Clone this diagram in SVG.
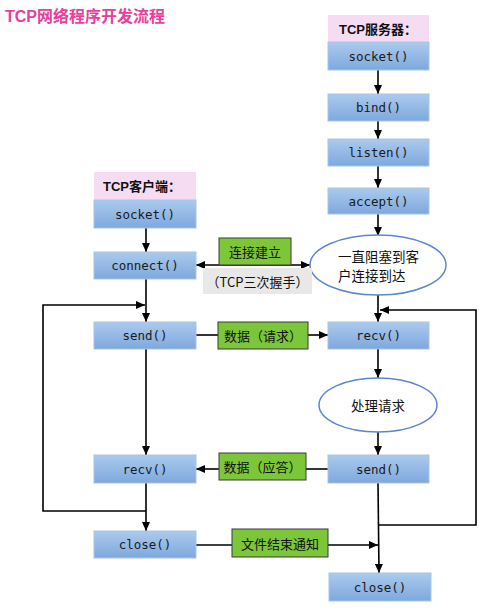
<svg xmlns="http://www.w3.org/2000/svg" width="500" height="611" viewBox="0 0 500 611">
<style>
.box{fill:url(#blue);stroke:#a9c4e6;stroke-width:1}
.bt{font-family:"DejaVu Sans Mono","Liberation Mono",monospace;font-size:12.5px;fill:#1a1a1a;text-anchor:middle;dominant-baseline:central}
.hdr{fill:#f5dcf2}
.ht{font-family:"Liberation Sans","Noto Sans CJK SC",sans-serif;font-weight:bold;font-size:13px;fill:#111;dominant-baseline:central}
.g{fill:#7cc63a;stroke:#3a3a3a;stroke-width:1}
.gt{font-family:"Noto Sans CJK SC",sans-serif;font-size:13px;fill:#111;text-anchor:middle;dominant-baseline:central}
.el{fill:#fff;stroke:#5b87d0;stroke-width:1.5}
.et{font-family:"Noto Sans CJK SC",sans-serif;font-size:13.5px;fill:#111;dominant-baseline:central}
.ln{fill:none;stroke:#000;stroke-width:1.6}
.ar{marker-end:url(#ah)}
</style>
<defs>
<linearGradient id="blue" x1="0" y1="0" x2="0" y2="1">
<stop offset="0" stop-color="#abcaed"/>
<stop offset="1" stop-color="#7ea8dd"/>
</linearGradient>
<marker id="ah" markerUnits="userSpaceOnUse" markerWidth="9" markerHeight="8" refX="9" refY="4" orient="auto">
<path d="M0,0 L9,4 L0,8 Z" fill="#000"/>
</marker>
<marker id="ahs" markerUnits="userSpaceOnUse" markerWidth="9" markerHeight="8" refX="0" refY="4" orient="auto">
<path d="M9,0 L0,4 L9,8 Z" fill="#000"/>
</marker>
</defs>
<text x="5" y="22" font-family="Liberation Sans,'Noto Sans CJK SC',sans-serif" font-size="16" font-weight="bold" fill="#e8409b">TCP网络程序开发流程</text>

<g id="connectors">
<line class="ln ar" x1="378" y1="70" x2="378" y2="94"/>
<line class="ln ar" x1="378" y1="121" x2="378" y2="139"/>
<line class="ln ar" x1="378" y1="166" x2="378" y2="188"/>
<line class="ln ar" x1="378" y1="214" x2="378" y2="236"/>
<line class="ln ar" x1="378" y1="295" x2="378" y2="322"/>
<line class="ln ar" x1="378" y1="349" x2="378" y2="378"/>
<line class="ln ar" x1="378" y1="432" x2="378" y2="455"/>
<line class="ln ar" x1="378" y1="483" x2="379" y2="573"/>
<polyline class="ln ar" points="379,525 476,525 476,310 380,310"/>
<line class="ln ar" x1="146" y1="228" x2="146" y2="252"/>
<line class="ln ar" x1="146" y1="279" x2="146" y2="322"/>
<line class="ln ar" x1="146" y1="349" x2="146" y2="455"/>
<line class="ln ar" x1="146" y1="483" x2="146" y2="531"/>
<polyline class="ln ar" points="146,511 43,511 43,305 145,305"/>
<line class="ln" x1="196" y1="265" x2="310" y2="265" marker-start="url(#ahs)" marker-end="url(#ah)"/>
<line class="ln" x1="196" y1="335" x2="218" y2="335"/>
<line class="ln ar" x1="308" y1="335" x2="328" y2="335"/>
<line class="ln" x1="306" y1="469" x2="328" y2="469"/>
<line class="ln ar" x1="219" y1="469" x2="196" y2="469"/>
<line class="ln" x1="196" y1="545" x2="232" y2="545"/>
<line class="ln ar" x1="328" y1="545" x2="378" y2="545"/>
</g>

<g id="server-header"><rect class="hdr" x="328" y="15" width="101" height="27"/><text class="ht" x="339" y="29">TCP服务器：</text></g>
<g id="server-socket"><rect class="box" x="328" y="42" width="101" height="28"/><text class="bt" x="378.5" y="56">socket()</text></g>
<g id="server-bind"><rect class="box" x="328" y="94" width="101" height="27"/><text class="bt" x="378.5" y="107.5">bind()</text></g>
<g id="server-listen"><rect class="box" x="328" y="139" width="101" height="27"/><text class="bt" x="378.5" y="152.5">listen()</text></g>
<g id="server-accept"><rect class="box" x="328" y="188" width="101" height="26"/><text class="bt" x="378.5" y="201">accept()</text></g>
<g id="server-block"><ellipse class="el" cx="378" cy="265" rx="68" ry="30"/><text class="et" x="338" y="256">一直阻塞到客</text><text class="et" x="338" y="275">户连接到达</text></g>
<g id="server-recv"><rect class="box" x="328" y="322" width="101" height="27"/><text class="bt" x="378.5" y="335.5">recv()</text></g>
<g id="server-process"><ellipse class="el" cx="378" cy="405" rx="59" ry="27"/><text class="et" x="378" y="405" text-anchor="middle">处理请求</text></g>
<g id="server-send"><rect class="box" x="328" y="455" width="101" height="28"/><text class="bt" x="378.5" y="469">send()</text></g>
<g id="server-close"><rect class="box" x="329" y="573" width="102" height="28"/><text class="bt" x="380" y="587">close()</text></g>

<g id="client-header"><rect class="hdr" x="94" y="172" width="102" height="28"/><text class="ht" x="103" y="186">TCP客户端：</text></g>
<g id="client-socket"><rect class="box" x="94" y="200" width="102" height="28"/><text class="bt" x="145" y="214">socket()</text></g>
<g id="client-connect"><rect class="box" x="94" y="252" width="102" height="27"/><text class="bt" x="145" y="265.5">connect()</text></g>
<g id="client-send"><rect class="box" x="94" y="322" width="102" height="27"/><text class="bt" x="145" y="335.5">send()</text></g>
<g id="client-recv"><rect class="box" x="94" y="455" width="102" height="28"/><text class="bt" x="145" y="469">recv()</text></g>
<g id="client-close"><rect class="box" x="94" y="531" width="102" height="27"/><text class="bt" x="145" y="544.5">close()</text></g>

<g id="label-connect"><rect class="g" x="219" y="238" width="72" height="27"/><text class="gt" x="255" y="251.5">连接建立</text></g>
<g id="label-handshake"><rect x="203" y="268" width="109" height="26" fill="#e8e8e8"/><text class="gt" x="257.5" y="281">（TCP三次握手）</text></g>
<g id="label-request"><rect class="g" x="218" y="322" width="90" height="27"/><text class="gt" x="263" y="335.5">数据（请求）</text></g>
<g id="label-reply"><rect class="g" x="219" y="453" width="87" height="27"/><text class="gt" x="262.5" y="466.5">数据（应答）</text></g>
<g id="label-eof"><rect class="g" x="232" y="529" width="96" height="28"/><text class="gt" x="280" y="543">文件结束通知</text></g>
</svg>
